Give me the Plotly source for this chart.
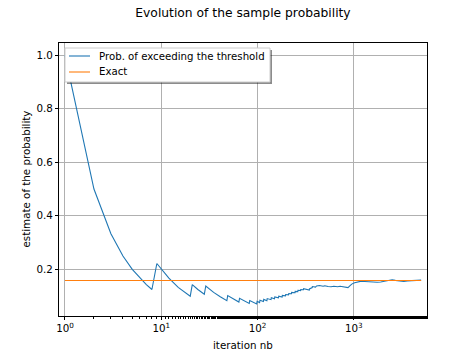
import plotly.graph_objects as go

# Data
iterations = [1, 2, 3, 4, 5, 6, 7, 8, 9, 12, 15, 20, 21, 24, 28, 29, 35, 41, 48, 49, 56, 64,
              65, 73, 82, 83, 90, 98, 99, 105, 106, 115, 116, 125, 126, 138, 139, 150, 151,
              165, 166, 180, 181, 195, 196, 210, 211, 225, 226, 245, 246, 262, 263, 280, 281,
              300, 301, 330, 345, 346, 370, 371, 400, 410, 440, 480, 500, 540, 580, 620, 680,
              720, 800, 870, 920, 960, 1020, 1100, 1200, 1300, 1450, 1600, 1750, 1900, 2100,
              2300, 2500, 2700, 3000, 3300, 3600, 4000, 4500, 5000]
estimates = [1.0, 0.5, 0.333, 0.25, 0.2, 0.167, 0.143, 0.125, 0.222, 0.167, 0.133, 0.1, 0.143,
             0.125, 0.107, 0.138, 0.114, 0.098, 0.083, 0.102, 0.089, 0.078, 0.092, 0.082, 0.073,
             0.084, 0.078, 0.071, 0.081, 0.076, 0.085, 0.080, 0.088, 0.083, 0.091, 0.087, 0.094,
             0.090, 0.097, 0.094, 0.100, 0.097, 0.103, 0.101, 0.106, 0.105, 0.110, 0.109, 0.114,
             0.113, 0.118, 0.117, 0.122, 0.121, 0.125, 0.124, 0.128, 0.126, 0.123, 0.127, 0.132,
             0.136, 0.134, 0.138, 0.140, 0.137, 0.139, 0.136, 0.135, 0.137, 0.135, 0.137, 0.134,
             0.132, 0.140, 0.146, 0.150, 0.154, 0.156, 0.155, 0.153, 0.151, 0.152, 0.153, 0.156,
             0.159, 0.161, 0.159, 0.156, 0.155, 0.157, 0.158, 0.158, 0.160]
exact_x = [1, 5000]
exact_y = [0.1587, 0.1587]

series_names = ["Prob. of exceeding the threshold", "Exact"]
series_colors = ["#1f77b4", "#ff7f0e"]

x_tick_vals = [1, 10, 100, 1000]
x_tick_text = ["10<sup>0</sup>", "10<sup>1</sup>", "10<sup>2</sup>", "10<sup>3</sup>"]
y_tick_vals = [0.2, 0.4, 0.6, 0.8, 1.0]

W, H = 474, 355
L, R, T, B = 59, 427, 43, 316
FONT = "DejaVu Sans"


def px(xp):
    return (xp - L) / (R - L)


def py(yp):
    return 1 - (yp - T) / (B - T)


fig = go.Figure()
fig.add_trace(go.Scatter(x=iterations, y=estimates, mode="lines", name=series_names[0],
                         line=dict(color=series_colors[0], width=1.1)))
fig.add_trace(go.Scatter(x=exact_x, y=exact_y, mode="lines", name=series_names[1],
                         line=dict(color=series_colors[1], width=1.1)))

axis_common = dict(showline=True, linecolor="black", linewidth=1, mirror=True,
                   ticks="outside", ticklen=3, tickcolor="black", tickwidth=1,
                   showgrid=True, gridcolor="#b0b0b0", gridwidth=0.8, zeroline=False,
                   tickfont=dict(family=FONT, size=10.3, color="black"))

fig.update_xaxes(type="log", range=[-0.062, 3.76], tickvals=x_tick_vals, ticktext=x_tick_text,
                 minor=dict(ticks="outside", ticklen=2, tickcolor="black", showgrid=False),
                 **axis_common)
fig.update_yaxes(range=[0.026, 1.045], tickvals=y_tick_vals, tickformat=".1f", **axis_common)

# custom legend (matplotlib style, with shadow)
lx0, ly0, lx1, ly1 = 65, 48, 270, 82
fig.add_shape(type="rect", xref="paper", yref="paper",
              x0=px(lx0 + 2), x1=px(lx1 + 2), y0=py(ly1 + 2), y1=py(ly0 + 2),
              fillcolor="rgba(0,0,0,0.45)", line=dict(width=0), layer="above")
fig.add_shape(type="rect", xref="paper", yref="paper",
              x0=px(lx0), x1=px(lx1), y0=py(ly1), y1=py(ly0),
              fillcolor="white", line=dict(color="#cccccc", width=1), layer="above")
item_y = [56, 72]
for name, color, yy in zip(series_names, series_colors, item_y):
    fig.add_shape(type="line", xref="paper", yref="paper",
                  x0=px(69), x1=px(90), y0=py(yy), y1=py(yy),
                  line=dict(color=color, width=1.1), layer="above")
    fig.add_annotation(text=name, xref="paper", yref="paper", x=px(97), y=py(yy),
                       xanchor="left", yanchor="middle", showarrow=False,
                       font=dict(family=FONT, size=10.2, color="black"))

fig.add_annotation(text="iteration nb", xref="paper", yref="paper",
                   x=0.5, y=py(345), xanchor="center", yanchor="middle",
                   showarrow=False, font=dict(family=FONT, size=10.3, color="black"))
fig.add_annotation(text="estimate of the probability", xref="paper", yref="paper",
                   x=px(25), y=0.5, xanchor="center", yanchor="middle",
                   textangle=-90, showarrow=False,
                   font=dict(family=FONT, size=10.3, color="black"))

fig.update_layout(
    width=W, height=H,
    margin=dict(l=L, r=W - R, t=T, b=H - B, pad=0),
    paper_bgcolor="white", plot_bgcolor="white",
    title=dict(text="Evolution of the sample probability", x=0.5, xref="paper",
               y=1 - 12.5 / H, yref="container", xanchor="center", yanchor="middle",
               font=dict(family=FONT, size=12.3, color="black")),
    showlegend=False,
)

fig.write_html("out.html", config={"displayModeBar": False},
               post_script="document.body.style.margin='0';document.body.style.padding='0';")
